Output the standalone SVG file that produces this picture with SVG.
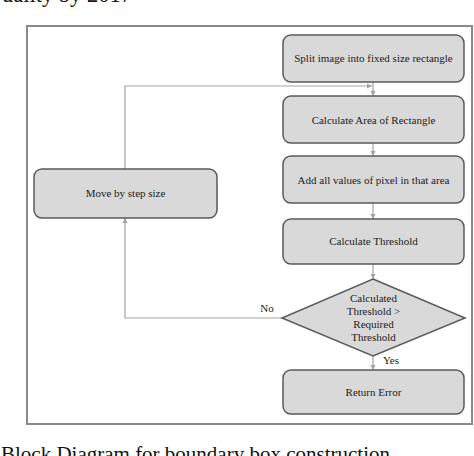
<svg xmlns="http://www.w3.org/2000/svg" width="474" height="456" viewBox="0 0 474 456">
<style>
.n{fill:#d9d9d9;stroke:#5a5a5a;stroke-width:1.5}
.t{font-family:"Liberation Serif","Times New Roman",serif;font-size:11px;fill:#222;text-anchor:middle}
.c{fill:none;stroke:#a3a3a3;stroke-width:1.2}
.big{font-family:"Liberation Serif","Times New Roman",serif;fill:#111}
</style>
<defs>
<marker id="a" markerWidth="6" markerHeight="6" refX="5" refY="3" orient="auto" markerUnits="userSpaceOnUse">
<path d="M0,0.5 L5,3 L0,5.5 Z" fill="#a3a3a3"/>
</marker>
</defs>
<rect width="474" height="456" fill="#fff"/>
<text class="big" x="2" y="2" font-size="22.5">uality by 2017</text>
<rect x="27" y="26" width="445" height="398" fill="#fff" stroke="#8a8a8a" stroke-width="2"/>
<g id="connectors">
<path class="c" d="M373,82 V96" marker-end="url(#a)"/>
<path class="c" d="M125,169 V86 H372" marker-end="url(#a)"/>
<path class="c" d="M373,143 V156" marker-end="url(#a)"/>
<path class="c" d="M373,203 V219" marker-end="url(#a)"/>
<path class="c" d="M373,264 V279" marker-end="url(#a)"/>
<path class="c" d="M373,356 V370" marker-end="url(#a)"/>
<path class="c" d="M282,318 H125 V218" marker-end="url(#a)"/>
<text class="t" x="267" y="312">No</text>
<text class="t" x="391" y="364">Yes</text>
</g>
<g id="split">
<rect class="n" x="283" y="35" width="181" height="47" rx="8"/>
<text class="t" x="373.5" y="62">Split image into fixed size rectangle</text>
</g>
<g id="area">
<rect class="n" x="283" y="96" width="181" height="47" rx="8"/>
<text class="t" x="373.5" y="124">Calculate Area of Rectangle</text>
</g>
<g id="add">
<rect class="n" x="283" y="156" width="181" height="47" rx="8"/>
<text class="t" x="373.5" y="184">Add all values of pixel in that area</text>
</g>
<g id="threshold">
<rect class="n" x="283" y="219" width="181" height="45" rx="8"/>
<text class="t" x="373.5" y="245">Calculate Threshold</text>
</g>
<g id="decision">
<polygon class="n" points="373,279 465,318 373,356 282,318"/>
<text class="t" x="373.5" y="302">Calculated</text>
<text class="t" x="373.5" y="315">Threshold &gt;</text>
<text class="t" x="373.5" y="328">Required</text>
<text class="t" x="373.5" y="341">Threshold</text>
</g>
<g id="error">
<rect class="n" x="283" y="370" width="181" height="44" rx="8"/>
<text class="t" x="373.5" y="396">Return Error</text>
</g>
<g id="move">
<rect class="n" x="34" y="169" width="183" height="49" rx="8"/>
<text class="t" x="125.5" y="197">Move by step size</text>
</g>
<text class="big" x="1" y="461" font-size="21">Block Diagram for boundary box construction</text>
</svg>
